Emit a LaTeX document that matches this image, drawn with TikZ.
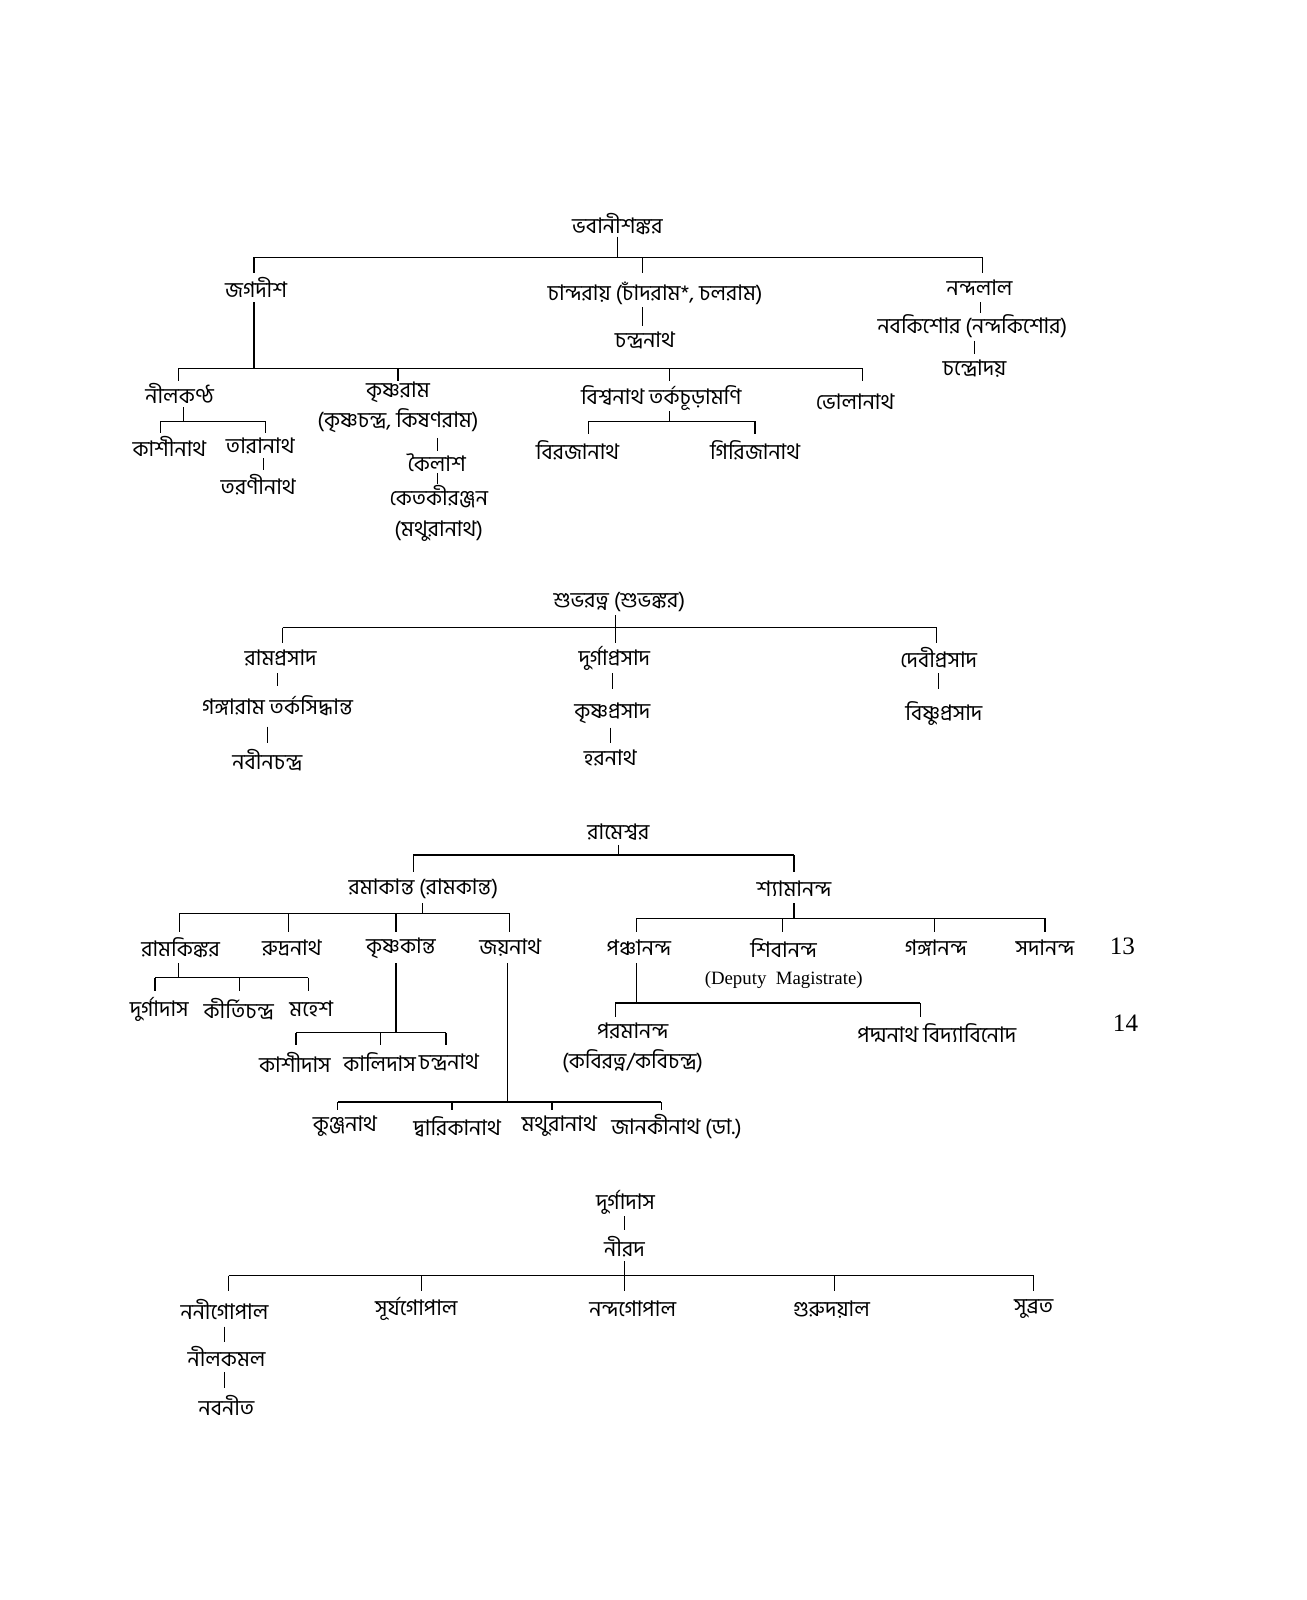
\documentclass[tikz,border=0pt]{standalone}
\usepackage{fontspec}
\newfontfamily\bn[Script=Bengali]{Hind Siliguri}
\newfontfamily\lat{Liberation Serif}
\begin{document}
\begin{tikzpicture}[x=0.02cm,y=-0.02cm,
  nm/.style={inner sep=1.5pt,font=\bn\fontsize{12}{17}\selectfont,align=center},
  ln/.style={line width=0.7pt,black}]
\useasboundingbox[fill=white] (0,0) rectangle (1280,1568);
% ---------- section 1
\node[nm] (bh) at (605,220) {ভবানীশঙ্কর};
\node[nm] (jg) at (251,282) {জগদীশ};
\node[nm] (cr) at (642,287) {চান্দরায় (চাঁদরাম*, চলরাম)};
\node[nm] (nl) at (960,282) {নন্দলাল};
\node[nm] (cn) at (632,334) {চন্দ্রনাথ};
\node[nm] (nk) at (953,320) {নবকিশোর (নন্দকিশোর)};
\node[nm] (co) at (955,361) {চন্দ্রোদয়};
\node[nm] (nlk) at (176,386) {নীলকণ্ঠ};
\node[nm] (kr) at (390,399) {কৃষ্ণরাম\\(কৃষ্ণচন্দ্র, কিষণরাম)};
\node[nm] (bi) at (648,390) {বিশ্বনাথ তর্কচূড়ামণি};
\node[nm] (bh2) at (838,394) {ভোলানাথ};
\node[nm] (ka) at (166,437) {কাশীনাথ};
\node[nm] (ta) at (255,437) {তারানাথ};
\node[nm] (tr) at (253,475) {তরণীনাথ};
\node[nm] (ki) at (428,453) {কৈলাশ};
\node[nm] (ke) at (430,503) {কেতকীরঞ্জন\\(মথুরানাথ)};
\node[nm] (bj) at (566,441) {বিরজানাথ};
\node[nm] (gj) at (740,441) {গিরিজানাথ};
\draw[ln] (605,232) -- (605,252) (249,252) -- (963,252);
\foreach \xx in {249,630,963} \draw[ln] (\xx,252) -- (\xx,268);
\draw[ln] (630,301) -- (630,319);
\draw[ln] (961,296) -- (961,307);
\draw[ln] (955,334) -- (955,347);
\draw[ln] (249,296) -- (249,361) (175,361) -- (845,361);
\foreach \xx in {175,390,656,845} \draw[ln] (\xx,361) -- (\xx,373);
\draw[ln] (180,399) -- (180,413) (157,413) -- (260,413) (157,413)--(157,424) (260,413)--(260,424);
\draw[ln] (258,449) -- (258,461);
\draw[ln] (429,429) -- (429,442) (429,464) -- (429,474);
\draw[ln] (656,403) -- (656,413) (577,413) -- (740,413) (577,413) -- (577,425) (740,413) -- (740,425);
% ---------- section 2
\node[nm] (sb) at (607,590) {শুভরত্ন (শুভঙ্কর)};
\node[nm] (rp) at (275,645) {রামপ্রসাদ};
\node[nm] (dp) at (602,645) {দুর্গাপ্রসাদ};
\node[nm] (dv) at (920,645) {দেবীপ্রসাদ};
\node[nm] (gt) at (272,692) {গঙ্গারাম তর্কসিদ্ধান্ত};
\node[nm] (nb) at (262,745) {নবীনচন্দ্র};
\node[nm] (kp) at (600,699) {কৃষ্ণপ্রসাদ};
\node[nm] (hn) at (598,743) {হরনাথ};
\node[nm] (vp) at (925,699) {বিষ্ণুপ্রসাদ};
\draw[ln] (603,603) -- (603,615) (277,615) -- (918,615) (277,615)--(277,630) (603,615)--(603,630) (918,615)--(918,630);
\draw[ln] (272,660)--(272,672) (262,712)--(262,728) (600,660)--(600,675) (598,713)--(598,728) (920,660)--(920,675);
% ---------- section 3
\node[nm] (rm) at (606,815) {রামেশ্বর};
\node[nm] (rk) at (415,871) {রমাকান্ত (রামকান্ত)};
\node[nm] (sy) at (778,871) {শ্যামানন্দ};
\node[nm] (rki) at (177,929) {রামকিঙ্কর};
\node[nm] (ru) at (286,929) {রুদ্রনাথ};
\node[nm] (kk) at (393,929) {কৃষ্ণকান্ত};
\node[nm] (jy) at (500,929) {জয়নাথ};
\node[nm] (pa) at (626,929) {পঞ্চানন্দ};
\node[nm] (si) at (768,929) {শিবানন্দ};
\node[nm] (ga) at (917,929) {গঙ্গানন্দ};
\node[nm] (sa) at (1024,929) {সদানন্দ};
\node[inner sep=1pt,font=\lat\fontsize{10.5}{12}\selectfont] (dm) at (768,960) {(Deputy\ \ Magistrate)};
\node[nm] (dd) at (156,989) {দুর্গাদাস};
\node[nm] (kc) at (234,989) {কীর্তিচন্দ্র};
\node[nm] (mh) at (305,989) {মহেশ};
\node[nm] (kd) at (289,1041) {কাশীদাস};
\node[nm] (kl) at (372,1041) {কালিদাস};
\node[nm] (cn2) at (440,1041) {চন্দ্রনাথ};
\node[nm] (ku) at (338,1104) {কুঞ্জনাথ};
\node[nm] (dw) at (448,1104) {দ্বারিকানাথ};
\node[nm] (mt) at (548,1104) {মথুরানাথ};
\node[nm] (jk) at (663,1104) {জানকীনাথ (ডা.)};
\node[nm] (pr) at (620,1027) {পরমানন্দ\\(কবিরত্ন/কবিচন্দ্র)};
\node[nm] (pd) at (918,1012) {পদ্মনাথ বিদ্যাবিনোদ};
\draw[ln] (606,828)--(606,838) (405,838)--(778,838) (405,838)--(405,855) (778,838)--(778,855);
\draw[ln] (414,885)--(414,895) (176,895)--(499,895);
\foreach \xx in {176,283,388,499} \draw[ln] (\xx,895)--(\xx,913);
\draw[ln] (778,885)--(778,900) (624,900)--(1024,900);
\foreach \xx in {624,767,916,1024} \draw[ln] (\xx,900)--(\xx,913);
\draw[ln] (175,944)--(175,958) (152,958)--(302,958);
\foreach \xx in {152,235,302} \draw[ln] (\xx,958)--(\xx,971);
\draw[ln] (388,944)--(388,1012) (290,1012)--(437,1012);
\foreach \xx in {290,373,437} \draw[ln] (\xx,1012)--(\xx,1024);
\draw[ln] (497,944)--(497,1080) (331,1080)--(648,1080);
\foreach \xx in {331,443,541,648} \draw[ln] (\xx,1080)--(\xx,1088);
\draw[ln] (624,944)--(624,983) (603,983)--(902,983) (603,983)--(603,997) (902,983)--(902,997);
% ---------- section 4
\node[nm] (dg) at (613,1178) {দুর্গাদাস};
\node[nm] (nr) at (612,1222) {নীরদ};
\node[nm] (ng) at (220,1283) {ননীগোপাল};
\node[nm] (sg) at (408,1283) {সূর্যগোপাল};
\node[nm] (ndg) at (620,1283) {নন্দগোপাল};
\node[nm] (gd) at (815,1283) {গুরুদয়াল};
\node[nm] (sv) at (1013,1283) {সুব্রত};
\node[nm] (nkm) at (222,1329) {নীলকমল};
\node[nm] (nn) at (222,1377) {নবনীত};
\draw[ln] (612,1192)--(612,1205) (612,1236)--(612,1250) (224,1250)--(1013,1250);
\foreach \xx in {224,413,612,818,1013} \draw[ln] (\xx,1250)--(\xx,1265);
\draw[ln] (220,1300)--(220,1315) (220,1345)--(220,1360);
% margin marks
\node[font=\lat\fontsize{14}{14}\selectfont] (m13) at (1100,927) {13};
\node[font=\lat\fontsize{14}{14}\selectfont] (m14) at (1103,1003) {14};
\end{tikzpicture}
\end{document}
